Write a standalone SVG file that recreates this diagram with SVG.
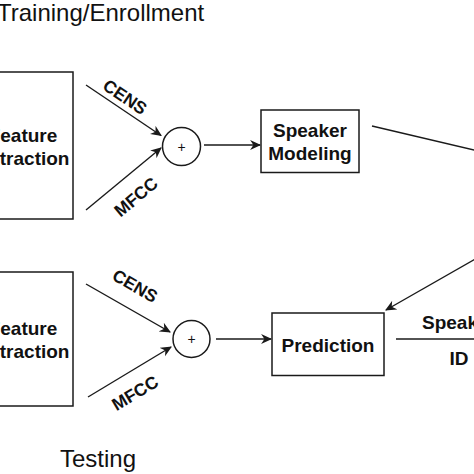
<svg xmlns="http://www.w3.org/2000/svg" width="474" height="474" viewBox="0 0 474 474">
<style>
.box{fill:#fff;stroke:#1a1a1a;stroke-width:1.5}
.ln{fill:none;stroke:#1a1a1a;stroke-width:1.4}
.t{font-family:"Liberation Sans",Arial,sans-serif;fill:#111}
.b{font-weight:bold;font-size:19px;text-anchor:middle}
.lab{font-weight:bold;font-size:17.5px;text-anchor:middle;dominant-baseline:central}
.big{font-size:24px}
</style>
<defs>
<marker id="ah" viewBox="0 0 10 10" refX="9" refY="5" markerWidth="11" markerHeight="11" markerUnits="userSpaceOnUse" orient="auto">
<path d="M0,0.5 L10,5 L0,9.5 L3,5 z" fill="#1a1a1a"/>
</marker>
</defs>
<rect width="474" height="474" fill="#fff"/>
<text class="t big" x="-3" y="21">Training/Enrollment</text>
<text class="t big" x="60" y="467">Testing</text>
<g id="fe1">
<rect class="box" x="-20" y="72" width="93" height="147"/>
<text class="t b" x="23" y="142">Feature</text>
<text class="t b" x="23" y="165">Extraction</text>
</g>
<g id="fe2">
<rect class="box" x="-20" y="272" width="93" height="134"/>
<text class="t b" x="23" y="335">Feature</text>
<text class="t b" x="23" y="358">Extraction</text>
</g>
<g id="sum1">
<circle class="box" cx="181.5" cy="146.5" r="19"/>
<text class="t" x="181.5" y="151.5" font-size="14" text-anchor="middle">+</text>
</g>
<g id="sum2">
<circle class="box" cx="191.5" cy="339" r="18.5"/>
<text class="t" x="191.5" y="344" font-size="14" text-anchor="middle">+</text>
</g>
<g id="sm">
<rect class="box" x="261" y="110" width="98" height="62.5"/>
<text class="t b" x="310" y="137">Speaker</text>
<text class="t b" x="310" y="160">Modeling</text>
</g>
<g id="pred">
<rect class="box" x="272" y="313" width="112" height="62.5"/>
<text class="t b" x="328" y="352">Prediction</text>
</g>
<g id="out">
<text class="t b" x="459" y="329">Speaker</text>
<text class="t b" x="459" y="365">ID</text>
</g>
<g id="connectors">
<line class="ln" x1="86" y1="85" x2="161" y2="135.5" marker-end="url(#ah)"/>
<line class="ln" x1="86" y1="210" x2="161" y2="148" marker-end="url(#ah)"/>
<line class="ln" x1="204" y1="145" x2="260" y2="145" marker-end="url(#ah)"/>
<line class="ln" x1="372" y1="126" x2="480" y2="151.5"/>
<line class="ln" x1="484" y1="254" x2="386" y2="310" marker-end="url(#ah)"/>
<line class="ln" x1="86" y1="284" x2="170" y2="332" marker-end="url(#ah)"/>
<line class="ln" x1="88" y1="397" x2="171" y2="347" marker-end="url(#ah)"/>
<line class="ln" x1="216" y1="339" x2="271" y2="339" marker-end="url(#ah)"/>
<line class="ln" x1="396" y1="339" x2="474" y2="339"/>
</g>
<text class="t lab" transform="translate(125,97) rotate(34)">CENS</text>
<text class="t lab" transform="translate(136,197) rotate(-40)">MFCC</text>
<text class="t lab" transform="translate(135,286) rotate(30)">CENS</text>
<text class="t lab" transform="translate(135,393) rotate(-31)">MFCC</text>
</svg>
